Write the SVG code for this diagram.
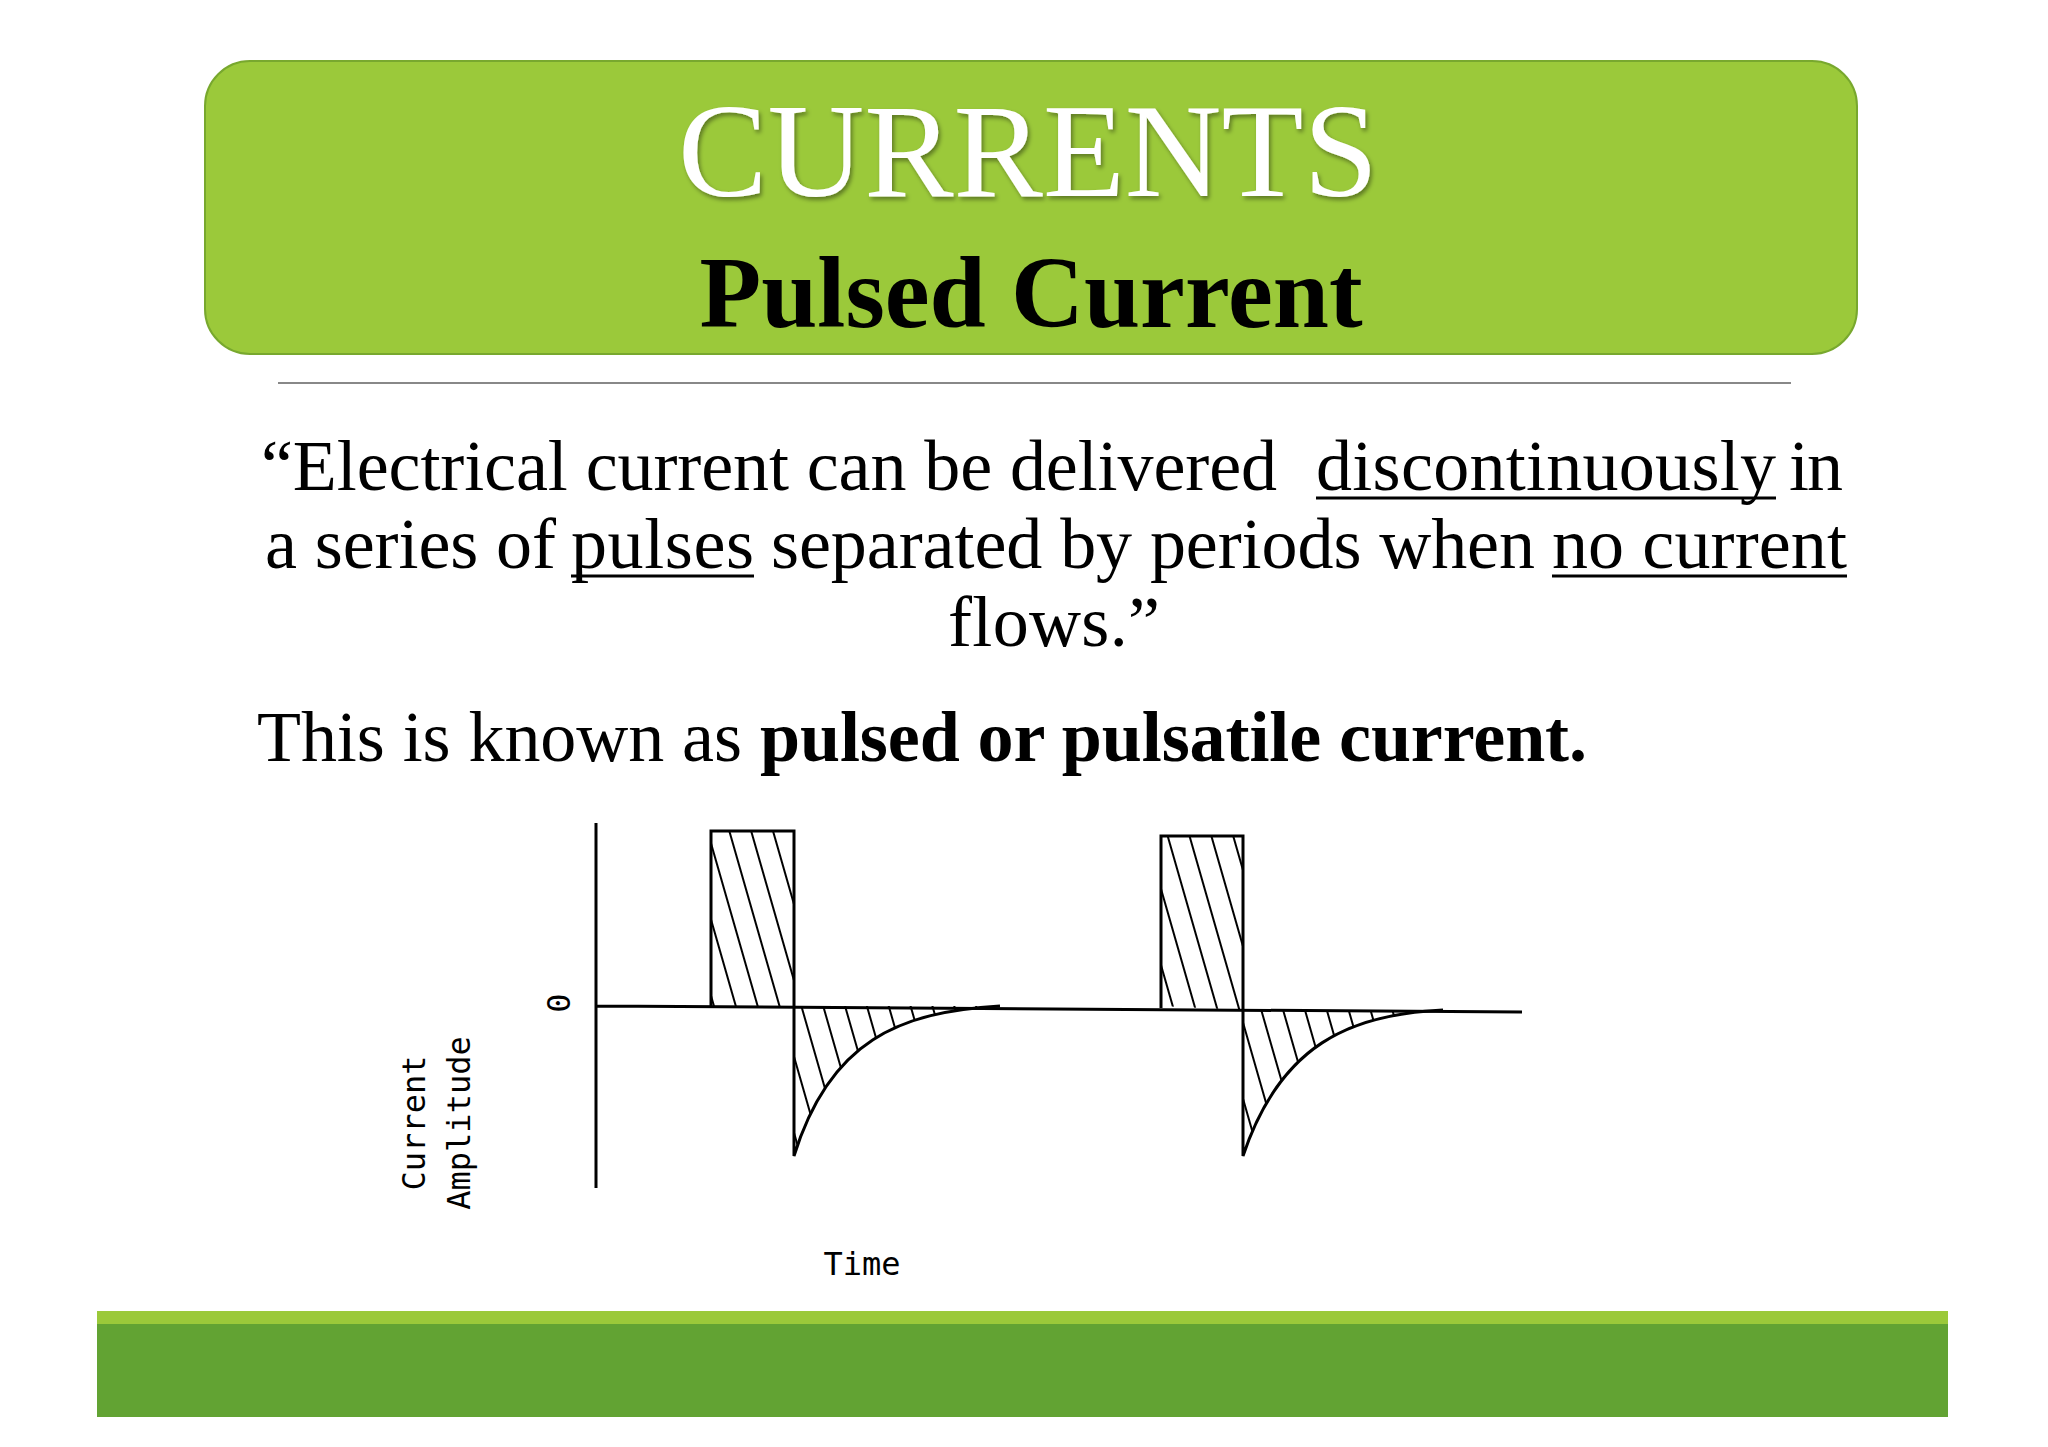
<svg xmlns="http://www.w3.org/2000/svg" width="2048" height="1447" viewBox="0 0 2048 1447">
<defs>
<style>
.q{font-family:"Liberation Serif",serif;font-size:72px;fill:#000}
.m{font-family:"DejaVu Sans Mono","Liberation Mono",monospace;font-size:32px;fill:#000}
.ln{stroke:#000;stroke-width:3;fill:none}
.ul{stroke:#000;stroke-width:3}
</style>
<pattern id="h" width="21" height="21" patternUnits="userSpaceOnUse" patternTransform="rotate(-16)">
<line x1="10" y1="0" x2="10" y2="21" stroke="#000" stroke-width="2"/>
</pattern>
<filter id="sh"><feDropShadow dx="2" dy="3" stdDeviation="2" flood-color="#000" flood-opacity="0.4"/></filter>
</defs>
<rect width="2048" height="1447" fill="#fff"/>
<g id="header">
<rect x="205" y="61" width="1652" height="293" rx="45" fill="#9BC93A" stroke="#78A82E" stroke-width="2"/>
<text x="1028" y="196" text-anchor="middle" font-family="Liberation Serif,serif" font-size="134" fill="#fff" filter="url(#sh)">CURRENTS</text>
<text x="1031" y="327" text-anchor="middle" font-family="Liberation Serif,serif" font-weight="bold" font-size="101" fill="#000">Pulsed Current</text>
</g>
<line x1="278" y1="383" x2="1791" y2="383" stroke="#888" stroke-width="2"/>
<g id="quote">
<text class="q" y="490"><tspan x="261" textLength="1016">“Electrical current can be delivered</tspan><tspan x="1316" textLength="460">discontinuously</tspan><tspan x="1789" textLength="54">in</tspan></text>
<text class="q" y="568"><tspan x="265" textLength="291">a series of</tspan><tspan x="571" textLength="183">pulses</tspan><tspan x="771" textLength="764">separated by periods when</tspan><tspan x="1552" textLength="295">no current</tspan></text>
<text class="q" y="646" x="948" textLength="212">flows.”</text>
<text class="q" y="761"><tspan x="257" textLength="485">This is known as</tspan><tspan x="760" font-weight="bold" textLength="827">pulsed or pulsatile current.</tspan></text>
<line class="ul" x1="1316" y1="498" x2="1776" y2="498"/>
<line class="ul" x1="571" y1="576" x2="754" y2="576"/>
<line class="ul" x1="1552" y1="576" x2="1847" y2="576"/>
</g>
<g id="chart">
<path d="M711,1006 V831 H794 V1006 Z M794,1006 V1156 C830,1040 900,1012 1000,1006 Z M1161,1006 V836 H1243 V1010 Z M1243,1010 V1156 C1280,1045 1350,1014 1443,1010 Z" fill="url(#h)"/>
<path class="ln" d="M596,823 V1188 M596,1006 L1522,1012"/>
<path class="ln" d="M711,1006 V831 H794 V1156 C830,1040 900,1012 1000,1006"/>
<path class="ln" d="M1161,1008 V836 H1243 V1156 C1280,1045 1350,1014 1443,1010"/>
<text class="m" transform="translate(570,1003) rotate(-90)" text-anchor="middle">0</text>
<text class="m" transform="translate(425,1123) rotate(-90)" text-anchor="middle">Current</text>
<text class="m" transform="translate(470,1123) rotate(-90)" text-anchor="middle">Amplitude</text>
<text class="m" x="862" y="1275" text-anchor="middle">Time</text>
</g>
<g id="footer">
<rect x="97" y="1311" width="1851" height="106" fill="#62A333"/>
<rect x="97" y="1311" width="1851" height="13" fill="#9BC93A"/>
</g>
</svg>
